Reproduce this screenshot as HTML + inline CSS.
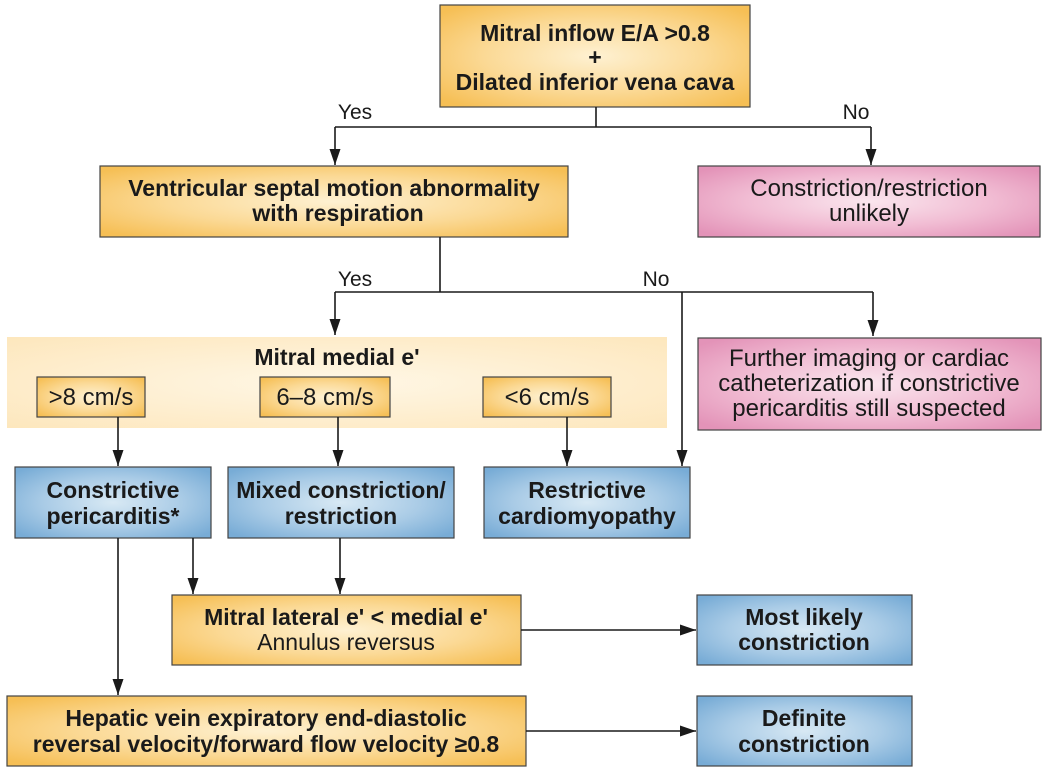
<!DOCTYPE html>
<html><head><meta charset="utf-8">
<style>
html,body{margin:0;padding:0;background:#fff;}
svg{display:block;}
text{font-family:"Liberation Sans",sans-serif;fill:#1a1a1a;text-anchor:middle;}
.b{font-weight:bold;}
</style></head><body>
<svg width="1050" height="774" viewBox="0 0 1050 774" xmlns="http://www.w3.org/2000/svg">
<defs>
<radialGradient id="og" cx="50%" cy="50%" r="65%"><stop offset="0" stop-color="#fef1d2"/><stop offset="0.55" stop-color="#fbd995"/><stop offset="1" stop-color="#f6bf55"/></radialGradient>
<radialGradient id="bg" cx="50%" cy="50%" r="65%"><stop offset="0" stop-color="#d8e9f4"/><stop offset="0.55" stop-color="#a9cbe6"/><stop offset="1" stop-color="#78acd6"/></radialGradient>
<radialGradient id="pg" cx="50%" cy="50%" r="65%"><stop offset="0" stop-color="#fae6ee"/><stop offset="0.55" stop-color="#f1bcd3"/><stop offset="1" stop-color="#e393b8"/></radialGradient>
<radialGradient id="band" cx="50%" cy="50%" r="70%"><stop offset="0" stop-color="#fff7e6"/><stop offset="1" stop-color="#fde7bd"/></radialGradient>
<marker id="a" markerWidth="16" markerHeight="11" refX="16" refY="5.5" orient="auto" markerUnits="userSpaceOnUse" viewBox="0 0 16 11"><path d="M0,0 L16,5.5 L0,11 Z" fill="#1a1a1a"/></marker>
</defs>
<g stroke="#444" stroke-width="1.2">
<rect x="440" y="5" width="310" height="102" fill="url(#og)"/>
<rect x="100" y="166" width="468" height="71" fill="url(#og)"/>
<rect x="698" y="166" width="342" height="71" fill="url(#pg)"/>
<rect x="7" y="337" width="660" height="91" fill="url(#band)" stroke="none"/>
<rect x="37" y="377" width="108" height="40" fill="url(#og)"/>
<rect x="260" y="377" width="130" height="40" fill="url(#og)"/>
<rect x="483" y="377" width="128" height="40" fill="url(#og)"/>
<rect x="698" y="338" width="343" height="92" fill="url(#pg)"/>
<rect x="15" y="467" width="196" height="71" fill="url(#bg)"/>
<rect x="228" y="467" width="226" height="71" fill="url(#bg)"/>
<rect x="484" y="467" width="206" height="71" fill="url(#bg)"/>
<rect x="172" y="595" width="349" height="70" fill="url(#og)"/>
<rect x="697" y="595" width="215" height="70" fill="url(#bg)"/>
<rect x="7" y="696" width="519" height="70" fill="url(#og)"/>
<rect x="697" y="696" width="215" height="70" fill="url(#bg)"/>
</g>
<g stroke="#1a1a1a" stroke-width="1.6" fill="none">
<path d="M596,107 V127 M335,127 H871 M440,237 V292 M335,292 H873"/>
<path d="M335,127 V165" marker-end="url(#a)"/>
<path d="M871,127 V165" marker-end="url(#a)"/>
<path d="M335,292 V335" marker-end="url(#a)"/>
<path d="M873,292 V336" marker-end="url(#a)"/>
<path d="M682,292 V466" marker-end="url(#a)"/>
<path d="M118,417 V466" marker-end="url(#a)"/>
<path d="M338,417 V466" marker-end="url(#a)"/>
<path d="M567,417 V466" marker-end="url(#a)"/>
<path d="M118,538 V695" marker-end="url(#a)"/>
<path d="M193,538 V594" marker-end="url(#a)"/>
<path d="M340,538 V594" marker-end="url(#a)"/>
<path d="M521,630 H696" marker-end="url(#a)"/>
<path d="M526,731 H696" marker-end="url(#a)"/>
</g>
<g font-size="23">
<text class="b" x="595" y="41">Mitral inflow E/A &gt;0.8</text>
<text class="b" x="595" y="65">+</text>
<text class="b" x="595" y="90">Dilated inferior vena cava</text>
<text class="b" x="334" y="196">Ventricular septal motion abnormality</text>
<text class="b" x="338" y="221">with respiration</text>
</g>
<g font-size="21">
<text x="355" y="119">Yes</text>
<text x="856" y="119">No</text>
<text x="355" y="286">Yes</text>
<text x="656" y="286">No</text>
</g>
<g font-size="24">
<text x="869" y="196">Constriction/restriction</text>
<text x="869" y="221">unlikely</text>
<text x="869" y="366">Further imaging or cardiac</text>
<text x="869" y="391">catheterization if constrictive</text>
<text x="869" y="416">pericarditis still suspected</text>
<text x="91" y="405">&gt;8 cm/s</text>
<text x="325" y="405">6–8 cm/s</text>
<text x="547" y="405">&lt;6 cm/s</text>
</g>
<g font-size="23">
<text class="b" x="337" y="365">Mitral medial e'</text>
<text class="b" x="113" y="498">Constrictive</text>
<text class="b" x="113" y="524">pericarditis*</text>
<text class="b" x="341" y="498">Mixed constriction/</text>
<text class="b" x="341" y="524">restriction</text>
<text class="b" x="587" y="498">Restrictive</text>
<text class="b" x="587" y="524">cardiomyopathy</text>
<text class="b" x="346" y="625">Mitral lateral e' &lt; medial e'</text>
<text x="346" y="650">Annulus reversus</text>
<text class="b" x="804" y="625">Most likely</text>
<text class="b" x="804" y="650">constriction</text>
<text class="b" x="266" y="726">Hepatic vein expiratory end-diastolic</text>
<text class="b" x="266" y="752">reversal velocity/forward flow velocity ≥0.8</text>
<text class="b" x="804" y="726">Definite</text>
<text class="b" x="804" y="752">constriction</text>
</g>
</svg>
</body></html>
